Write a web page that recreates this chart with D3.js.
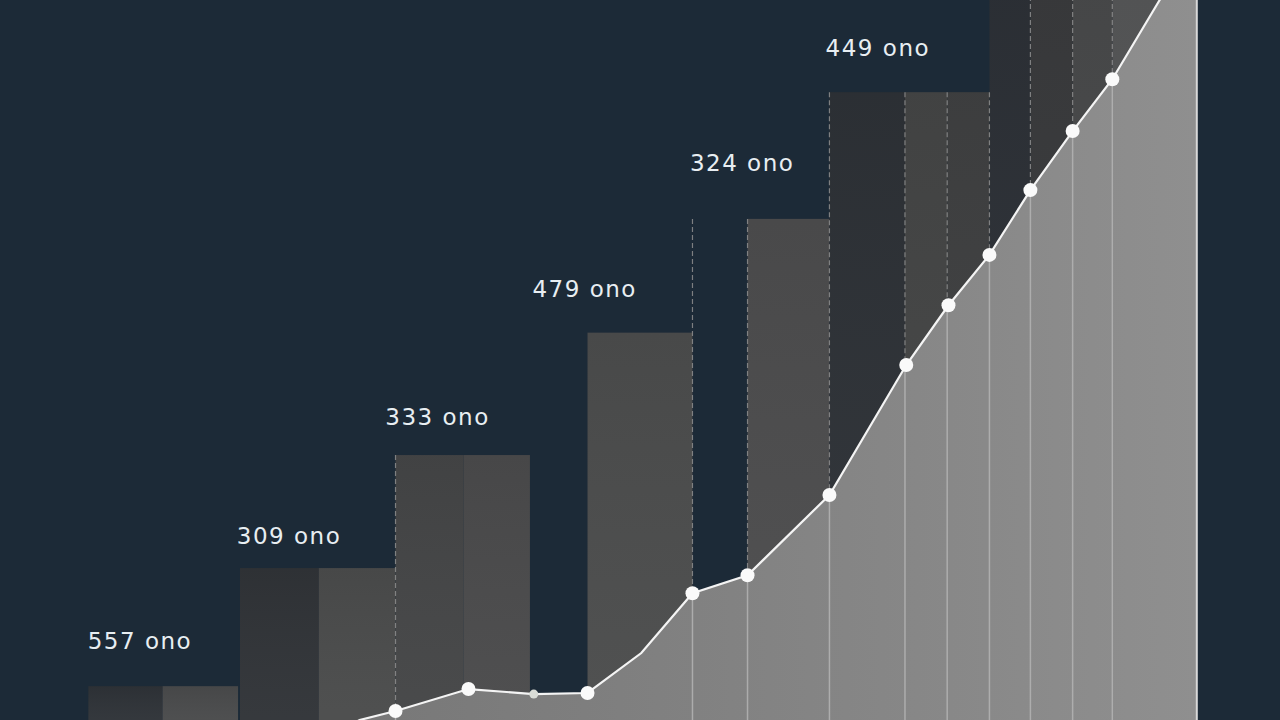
<!DOCTYPE html>
<html>
<head>
<meta charset="utf-8">
<script src="https://cdn.jsdelivr.net/npm/d3@7/dist/d3.min.js"></script>
<style>
  html, body { margin: 0; padding: 0; background: #1c2a37; overflow: hidden; }
  svg { display: block; }
</style>
</head>
<body>
<svg id="chart" width="1280" height="720"></svg>
<script>
// ---------- DATA (x in period units, y in value units) ----------
const barStart = [6.9, 12.7, 18.75, 24.9, 30.9, 36.2, 45.9, 58.4, 64.8, 70.7, 74.0, 77.3, 80.5, 83.8, 86.9];
const barEnd   = [12.7, 18.6, 24.9, 30.9, 36.2, 41.4, 54.1, 64.8, 70.7, 74.0, 77.3, 80.5, 83.8, 86.9, 93.5];
const barValue = [4.7, 4.7, 21.1, 21.1, 36.8, 36.8, 53.8, 69.6, 87.2, 87.2, 87.2, 105, 105, 105, 105];

const lineX = [25.0, 28.1, 30.9, 36.6, 41.7, 45.9, 50.1, 54.1, 58.4, 64.8, 70.8, 74.1, 77.3, 80.5, 83.8, 86.9, 90.6, 93.5];
const lineY = [-3, 0, 1.25, 4.3, 3.6, 3.75, 9.3, 17.6, 20.1, 31.25, 49.3, 57.6, 64.6, 73.6, 81.8, 89.0, 100, 106];
const markerIdx = [2, 3, 5, 7, 8, 9, 10, 11, 12, 13, 14, 15];
const smallMarkerIdx = [4];

const labelText  = ["557 ono", "309 ono", "333 ono", "479 ono", "324 ono", "449 ono"];
const labelX     = [6.85, 18.5, 30.1, 41.6, 53.9, 64.5];
const labelValue = [10.7, 25.4, 41.9, 59.6, 77.1, 93.1];

const gridX   = [30.9, 54.1, 58.4, 64.8, 70.7, 74.0, 77.3, 80.5, 83.8, 86.9];
const gridTop = [36.8, 69.6, 69.6, 87.2, 87.2, 87.2, 87.2, 105, 105, 105];
const edgeX = 93.5;

// ---------- STYLE ----------
const barColors = ["#2e3237", "#494a4b", "#303337", "#4a4b4b", "#444546", "#4a4a4b",
                   "#4b4c4c", "#4c4c4d", "#2d3136", "#444545", "#3f4041", "#2c3036",
                   "#393a3c", "#48494a", "#555657"];

const W = 1280, H = 720;
const x = d3.scaleLinear().domain([0, 100]).range([0, W]);
const y = d3.scaleLinear().domain([0, 100]).range([H, 0]);

const svg = d3.select("#chart");
svg.append("rect").attr("width", W).attr("height", H).attr("fill", "#1c2a37");

const defs = svg.append("defs");
const ag = defs.append("linearGradient").attr("id", "areaGrad")
  .attr("x1", "0%").attr("x2", "100%").attr("y1", "0%").attr("y2", "0%");
ag.append("stop").attr("offset", "0%").attr("stop-color", "#777777");
ag.append("stop").attr("offset", "60%").attr("stop-color", "#858585");
ag.append("stop").attr("offset", "100%").attr("stop-color", "#8f8f8f");

const bg = defs.append("linearGradient").attr("id", "barShade")
  .attr("x1", "0%").attr("x2", "0%").attr("y1", "0%").attr("y2", "100%");
bg.append("stop").attr("offset", "0%").attr("stop-color", "#000").attr("stop-opacity", 0.04);
bg.append("stop").attr("offset", "100%").attr("stop-color", "#fff").attr("stop-opacity", 0.03);

// bars
const bars = barStart.map((s, i) => ({ s, e: barEnd[i], v: barValue[i], i }));
svg.append("g").selectAll("rect").data(bars).join("rect")
  .attr("x", d => x(d.s))
  .attr("y", d => y(d.v))
  .attr("width", d => x(d.e) - x(d.s))
  .attr("height", d => y(0) - y(d.v))
  .attr("fill", d => barColors[d.i]);
svg.append("g").selectAll("rect").data(bars).join("rect")
  .attr("x", d => x(d.s))
  .attr("y", d => y(d.v))
  .attr("width", d => x(d.e) - x(d.s))
  .attr("height", d => y(0) - y(d.v))
  .attr("fill", "url(#barShade)");

// area
const pts = lineX.map((lx, i) => [lx, lineY[i]]);
const areaGen = d3.area().x(d => x(d[0])).y0(y(-5)).y1(d => y(d[1]));
svg.append("path").datum(pts).attr("d", areaGen).attr("fill", "url(#areaGrad)");

// interpolate line value at a given x
function lineAt(xv) {
  for (let i = 0; i < lineX.length - 1; i++) {
    if (xv >= lineX[i] && xv <= lineX[i + 1]) {
      const t = (xv - lineX[i]) / (lineX[i + 1] - lineX[i]);
      return lineY[i] + t * (lineY[i + 1] - lineY[i]);
    }
  }
  return lineY[lineY.length - 1];
}

// grid lines: dashed above the line, solid inside the area
const grid = svg.append("g");
gridX.forEach((gx, i) => {
  const lv = lineAt(gx);
  grid.append("line")
    .attr("x1", x(gx)).attr("x2", x(gx))
    .attr("y1", y(gridTop[i])).attr("y2", y(lv))
    .attr("stroke", "#8e8e8e").attr("stroke-width", 1.2)
    .attr("stroke-dasharray", "5,3").attr("opacity", 0.85);
  grid.append("line")
    .attr("x1", x(gx)).attr("x2", x(gx))
    .attr("y1", y(lv)).attr("y2", H)
    .attr("stroke", "#b4b4b4").attr("stroke-width", 1.5).attr("opacity", 0.85);
});
grid.append("line")
  .attr("x1", x(edgeX)).attr("x2", x(edgeX))
  .attr("y1", 0).attr("y2", H)
  .attr("stroke", "#d8d8d8").attr("stroke-width", 2);

// line
svg.append("path").datum(pts)
  .attr("d", d3.line().x(d => x(d[0])).y(d => y(d[1])))
  .attr("fill", "none").attr("stroke", "#f4f4f4").attr("stroke-width", 2.2);

// markers
svg.append("g").selectAll("circle").data(markerIdx).join("circle")
  .attr("cx", i => x(lineX[i])).attr("cy", i => y(lineY[i]))
  .attr("r", 7).attr("fill", "#fafafa");
svg.append("g").selectAll("circle").data(smallMarkerIdx).join("circle")
  .attr("cx", i => x(lineX[i])).attr("cy", i => y(lineY[i]))
  .attr("r", 4.5).attr("fill", "#d9dcd6");

// labels
svg.append("g").selectAll("text").data(labelText).join("text")
  .attr("x", (d, i) => x(labelX[i]))
  .attr("y", (d, i) => y(labelValue[i]))
  .attr("dominant-baseline", "middle")
  .attr("font-family", "'DejaVu Sans', sans-serif")
  .attr("font-size", 23)
  .attr("letter-spacing", 1.5)
  .attr("fill", "#e8eef2")
  .text(d => d);
</script>
</body>
</html>
